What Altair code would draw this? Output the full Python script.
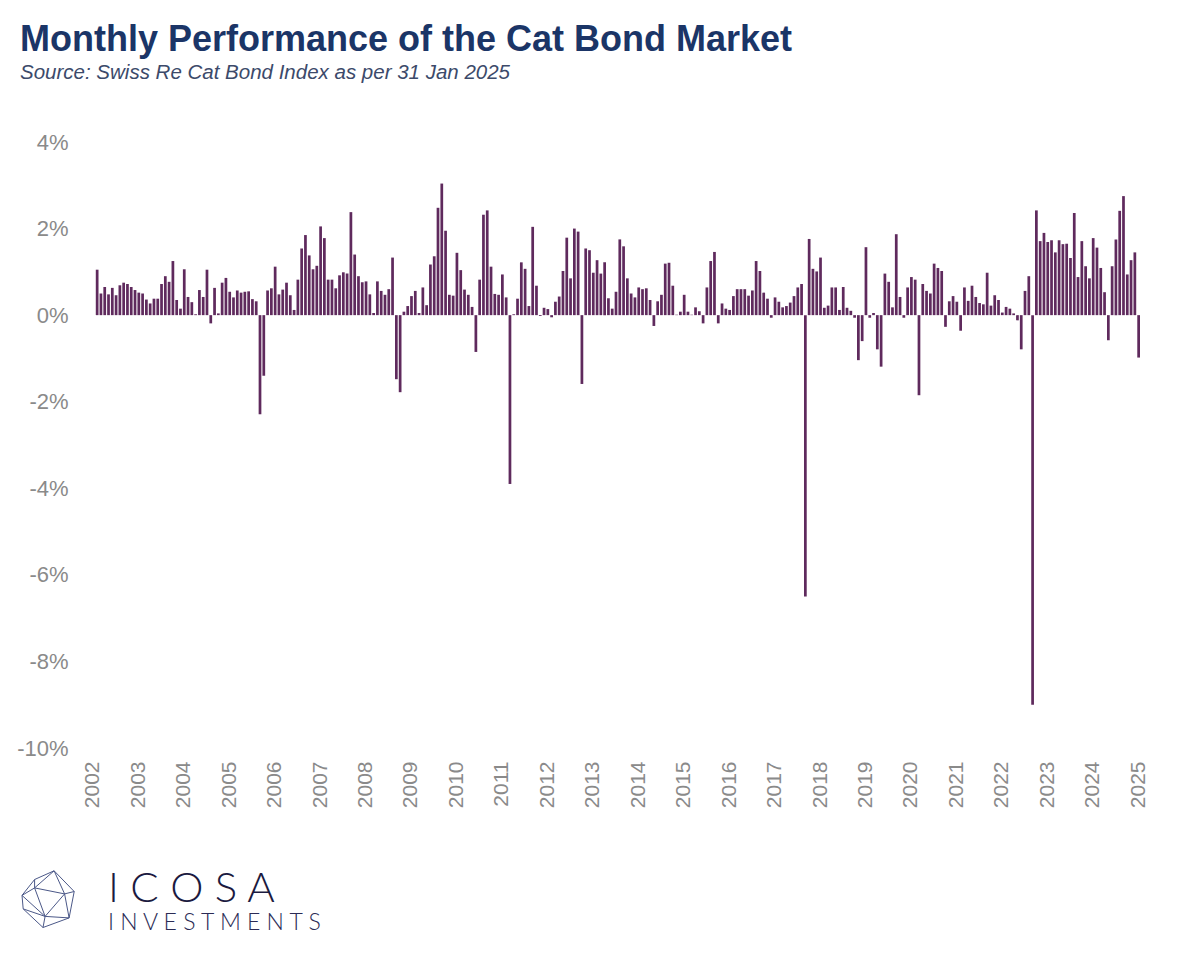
import altair as alt
import pandas as pd

# Monthly total returns in %; 2002 starts in February
v2002 = [1.05, 0.50, 0.65, 0.48, 0.63, 0.46, 0.69, 0.75, 0.72, 0.65, 0.58]
v2003 = [0.52, 0.50, 0.36, 0.27, 0.38, 0.38, 0.72, 0.90, 0.77, 1.25, 0.35, 0.15]
v2004 = [1.06, 0.42, 0.30, 0.02, 0.58, 0.42, 1.05, -0.19, 0.63, 0.04, 0.75, 0.86]
v2005 = [0.54, 0.41, 0.57, 0.52, 0.54, 0.55, 0.37, 0.32, -2.29, -1.40, 0.57, 0.62]
v2006 = [1.12, 0.48, 0.59, 0.75, 0.46, 0.12, 0.82, 1.54, 1.85, 1.38, 1.06, 1.14]
v2007 = [2.05, 1.78, 0.82, 0.82, 0.62, 0.92, 0.99, 0.96, 2.38, 1.40, 0.90, 0.76]
v2008 = [0.78, 0.48, 0.05, 0.78, 0.56, 0.47, 0.60, 1.33, -1.48, -1.78, 0.08, 0.21]
v2009 = [0.44, 0.56, 0.05, 0.64, 0.23, 1.17, 1.36, 2.48, 3.04, 1.95, 0.47, 0.45]
v2010 = [1.44, 1.04, 0.59, 0.47, 0.19, -0.85, 0.82, 2.32, 2.42, 1.12, 0.49, 0.47]
v2011 = [0.94, 0.41, -3.90, 0.02, 0.38, 1.22, 1.07, 0.21, 2.04, 0.68, -0.02, 0.17]
v2012 = [0.14, -0.05, 0.31, 0.43, 1.02, 1.79, 0.85, 2.00, 1.93, -1.59, 1.54, 1.50]
v2013 = [0.98, 1.27, 0.96, 1.22, 0.39, 0.15, 0.54, 1.75, 1.59, 0.85, 0.50, 0.41]
v2014 = [0.64, 0.60, 0.62, 0.35, -0.25, 0.32, 0.47, 1.19, 1.21, 0.68, 0.01, 0.08]
v2015 = [0.47, 0.08, 0.01, 0.18, 0.09, -0.19, 0.64, 1.25, 1.46, -0.19, 0.27, 0.15]
v2016 = [0.12, 0.44, 0.60, 0.60, 0.60, 0.45, 0.57, 1.25, 1.02, 0.52, 0.38, -0.06]
v2017 = [0.41, 0.31, 0.18, 0.21, 0.29, 0.44, 0.64, 0.72, -6.50, 1.76, 1.07, 1.01]
v2018 = [1.33, 0.17, 0.22, 0.64, 0.64, 0.12, 0.65, 0.17, 0.10, -0.06, -1.04, -0.60]
v2019 = [1.57, -0.06, 0.05, -0.79, -1.19, 0.96, 0.77, 0.18, 1.87, 0.42, -0.06, 0.64]
v2020 = [0.88, 0.82, -1.85, 0.72, 0.56, 0.50, 1.19, 1.09, 1.02, -0.27, 0.32, 0.44]
v2021 = [0.31, -0.36, 0.64, 0.33, 0.68, 0.42, 0.28, 0.25, 0.98, 0.22, 0.46, 0.35]
v2022 = [0.06, 0.19, 0.15, 0.04, -0.12, -0.79, 0.56, 0.90, -9.00, 2.42, 1.71, 1.90]
v2023 = [1.69, 1.73, 1.45, 1.73, 1.64, 1.65, 1.32, 2.36, 0.88, 1.71, 1.13, 0.85]
v2024 = [1.78, 1.56, 1.09, 0.53, -0.58, 1.13, 1.75, 2.41, 2.75, 0.94, 1.27, 1.45]
v2025 = [-0.98]

monthly = {
    2002: v2002, 2003: v2003, 2004: v2004, 2005: v2005, 2006: v2006,
    2007: v2007, 2008: v2008, 2009: v2009, 2010: v2010, 2011: v2011,
    2012: v2012, 2013: v2013, 2014: v2014, 2015: v2015, 2016: v2016,
    2017: v2017, 2018: v2018, 2019: v2019, 2020: v2020, 2021: v2021,
    2022: v2022, 2023: v2023, 2024: v2024, 2025: v2025,
}

rows = []
for year, vals in monthly.items():
    start = 13 - len(vals) if year == 2002 else 1
    for k, v in enumerate(vals):
        rows.append({"month": f"{year}-{start + k:02d}", "ret": v})
df = pd.DataFrame(rows)

month_domain = [f"{y}-{m:02d}" for y in range(2002, 2026) for m in range(1, 13)
                if not (y == 2025 and m > 1)]
year_ticks = [f"{y}-01" for y in range(2002, 2026)]
y_ticks = [-10, -8, -6, -4, -2, 0, 2, 4]

AXIS_FONT = "Liberation Sans"
AXIS_COLOR = "#8a8a8a"

bars = alt.Chart(df).mark_bar(color="#5f2a5d").encode(
    x=alt.X(
        "month:O",
        sort=month_domain,
        scale=alt.Scale(domain=month_domain, paddingInner=0.28, paddingOuter=0),
        axis=alt.Axis(
            values=year_ticks,
            labelExpr="substring(datum.value, 0, 4)",
            labelAngle=-90,
            labelFont=AXIS_FONT,
            labelFontSize=21,
            labelColor=AXIS_COLOR,
            labelPadding=13,
            ticks=False,
            domain=False,
            grid=False,
            title=None,
        ),
    ),
    y=alt.Y(
        "ret:Q",
        scale=alt.Scale(domain=[-10, 4], nice=False, zero=True),
        axis=alt.Axis(
            values=y_ticks,
            labelExpr="datum.value + '%'",
            labelFont=AXIS_FONT,
            labelFontSize=22,
            labelColor=AXIS_COLOR,
            labelPadding=24,
            ticks=False,
            domain=False,
            grid=False,
            title=None,
        ),
    ),
)

one = alt.Data(values=[{"k": 1}])

ico_path = (
    "M0.17,-0.94L0.84,-0.25L0.67,0.63L-0.2,0.95L-0.86,0.33L-0.9,-0.12L-0.48,-0.65Z"
    "M-0.48,-0.37L0.52,-0.17L-0.13,0.58Z"
    "M0.17,-0.94L-0.48,-0.37M0.17,-0.94L0.52,-0.17M-0.48,-0.65L-0.48,-0.37"
    "M-0.9,-0.12L-0.48,-0.37M-0.9,-0.12L-0.13,0.58M-0.86,0.33L-0.13,0.58"
    "M-0.2,0.95L-0.13,0.58M0.67,0.63L-0.13,0.58M0.67,0.63L0.52,-0.17"
    "M0.84,-0.25L0.52,-0.17"
)

logo_shape = alt.Chart(one).mark_point(
    shape=ico_path, size=3600, filled=False, stroke="#4b5888", strokeWidth=1, opacity=1
).encode(x=alt.value(-43), y=alt.value(757))

logo_word = alt.Chart(one).mark_text(
    text="I C O S A", font="Lato", fontSize=42, fontWeight=300, color="#1b1a40",
    align="left", baseline="alphabetic"
).encode(x=alt.value(16), y=alt.value(760))

logo_sub = alt.Chart(one).mark_text(
    text="I N V E S T M E N T S", font="Lato", fontSize=23, fontWeight=300,
    color="#2b2b55", align="left", baseline="alphabetic"
).encode(x=alt.value(16), y=alt.value(788))

chart = alt.layer(bars, logo_shape, logo_word, logo_sub).properties(
    width=1048,
    height=606,
    background="white",
    autosize=alt.AutoSizeParams(type="none"),
    padding={"left": 84, "top": 134, "right": 40, "bottom": 200},
    title=alt.TitleParams(
        text="Monthly Performance of the Cat Bond Market",
        subtitle="Source: Swiss Re Cat Bond Index as per 31 Jan 2025",
        anchor="start",
        frame="group",
        dx=-72,
        offset=47,
        font="Liberation Sans",
        fontSize=36,
        fontWeight="bold",
        color="#1b3567",
        subtitleFont="Liberation Sans",
        subtitleFontSize=20.5,
        subtitleFontStyle="italic",
        subtitleColor="#3c4a6a",
        subtitlePadding=4,
    ),
).configure_view(strokeWidth=0, stroke=None)

chart.save("out.html", embed_options={"renderer": "svg", "actions": False})
